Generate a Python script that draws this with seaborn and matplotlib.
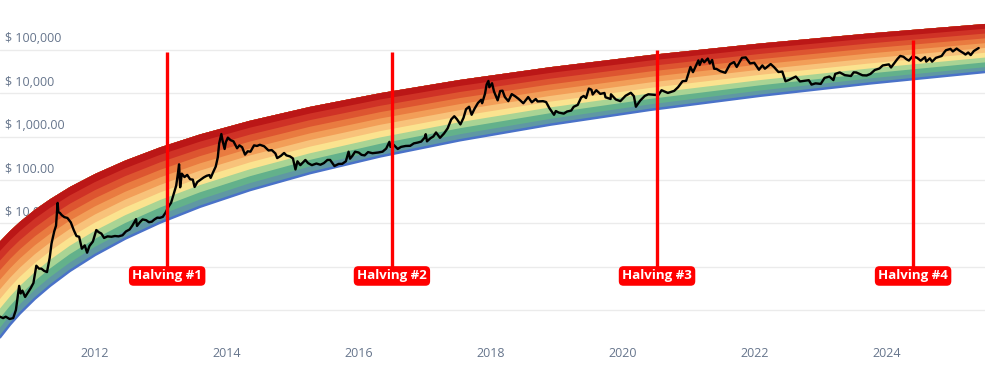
import pandas as pd
import seaborn as sns
import matplotlib.pyplot as plt
import matplotlib.dates as mdates
import matplotlib.transforms as mtransforms
import numpy as np

# rainbow envelope (bottom = blue line, top = dark red edge)
band_dates = ['2010-07-24', '2010-09-17', '2010-11-11', '2011-02-02', '2011-04-27',
              '2011-08-15', '2012-01-01', '2012-06-16', '2012-12-26', '2013-08-04',
              '2014-05-08', '2015-04-05', '2016-04-27', '2017-07-13', '2018-11-23',
              '2020-05-29', '2022-01-28', '2023-09-28', '2025-06-26']
band_top = [3.83, 6.64, 10.8, 20.6, 36.0, 69.0, 138, 281, 568, 1127,
            2333, 4875, 10090, 20420, 40090, 76560, 141300, 242100, 399000]
band_bottom = [0.0234, 0.0458, 0.0832, 0.182, 0.361, 0.798, 1.86, 4.43, 10.4, 24.1,
               58.6, 144, 350, 826, 1888, 4150, 8770, 16900, 31100]
band_colors = ['#5f98a3', '#63b18b', '#a9d494', '#fbe38f', '#f8c27a',
               '#f29e58', '#e97b40', '#dd5530', '#cf3226', '#bb1717']

# btc price line
btc_dates = [
    '2010-07-24', '2010-08-10', '2010-08-25', '2010-09-15', '2010-10-05', '2010-10-20',
    '2010-11-07', '2010-11-15', '2010-11-25', '2010-12-10', '2010-12-25', '2011-01-10',
    '2011-01-25', '2011-02-10', '2011-02-25', '2011-03-10', '2011-03-25', '2011-04-10',
    '2011-04-25', '2011-05-05', '2011-05-20', '2011-05-30', '2011-06-08', '2011-06-12',
    '2011-06-20', '2011-07-01', '2011-07-15', '2011-08-01', '2011-08-20', '2011-09-05',
    '2011-09-20', '2011-10-05', '2011-10-20', '2011-11-05', '2011-11-18', '2011-12-01',
    '2011-12-20', '2012-01-08', '2012-01-20', '2012-02-05', '2012-02-20', '2012-03-10',
    '2012-04-01', '2012-04-20', '2012-05-10', '2012-06-01', '2012-06-20', '2012-07-10',
    '2012-07-25', '2012-08-15', '2012-08-20', '2012-09-05', '2012-09-20', '2012-10-10',
    '2012-10-25', '2012-11-10', '2012-11-25', '2012-12-10', '2012-12-25', '2013-01-10',
    '2013-01-25', '2013-02-10', '2013-02-25', '2013-03-10', '2013-03-25', '2013-04-03',
    '2013-04-10', '2013-04-16', '2013-04-25', '2013-05-10', '2013-05-25', '2013-06-10',
    '2013-06-25', '2013-07-05', '2013-07-20', '2013-08-10', '2013-08-25', '2013-09-10',
    '2013-09-25', '2013-10-02', '2013-10-15', '2013-10-30', '2013-11-10', '2013-11-18',
    '2013-11-30', '2013-12-07', '2013-12-18', '2013-12-25', '2014-01-05', '2014-01-20',
    '2014-02-05', '2014-02-25', '2014-03-10', '2014-03-25', '2014-04-10', '2014-04-25',
    '2014-05-10', '2014-05-30', '2014-06-15', '2014-07-01', '2014-07-25', '2014-08-18',
    '2014-09-05', '2014-09-25', '2014-10-05', '2014-10-25', '2014-11-12', '2014-11-25',
    '2014-12-15', '2014-12-31', '2015-01-14', '2015-01-25', '2015-02-10', '2015-03-10',
    '2015-03-25', '2015-04-15', '2015-05-10', '2015-06-01', '2015-06-20', '2015-07-10',
    '2015-07-25', '2015-08-18', '2015-09-10', '2015-09-30', '2015-10-20', '2015-11-04',
    '2015-11-12', '2015-11-25', '2015-12-10', '2015-12-30', '2016-01-15', '2016-02-01',
    '2016-02-20', '2016-03-15', '2016-04-15', '2016-05-10', '2016-05-30', '2016-06-17',
    '2016-06-23', '2016-07-10', '2016-08-02', '2016-08-20', '2016-09-15', '2016-10-10',
    '2016-10-30', '2016-11-20', '2016-12-10', '2016-12-30', '2017-01-04', '2017-01-11',
    '2017-01-30', '2017-02-15', '2017-03-02', '2017-03-24', '2017-04-15', '2017-05-05',
    '2017-05-25', '2017-06-11', '2017-06-25', '2017-07-15', '2017-08-01', '2017-08-15',
    '2017-09-01', '2017-09-15', '2017-10-01', '2017-10-20', '2017-11-07', '2017-11-12',
    '2017-11-28', '2017-12-07', '2017-12-17', '2017-12-22', '2018-01-06', '2018-01-17',
    '2018-02-06', '2018-02-20', '2018-03-05', '2018-03-18', '2018-04-06', '2018-04-25',
    '2018-05-15', '2018-06-01', '2018-06-28', '2018-07-25', '2018-08-14', '2018-09-05',
    '2018-09-15', '2018-10-15', '2018-11-01', '2018-11-20', '2018-12-15', '2018-12-25',
    '2019-01-10', '2019-02-07', '2019-02-25', '2019-03-20', '2019-04-03', '2019-04-25',
    '2019-05-14', '2019-05-28', '2019-06-10', '2019-06-26', '2019-07-10', '2019-07-17',
    '2019-08-06', '2019-08-28', '2019-09-20', '2019-09-26', '2019-10-24', '2019-10-26',
    '2019-11-22', '2019-12-17', '2020-01-15', '2020-02-13', '2020-03-01', '2020-03-12',
    '2020-04-05', '2020-04-30', '2020-05-20', '2020-06-25', '2020-07-15', '2020-08-01',
    '2020-09-05', '2020-10-10', '2020-10-31', '2020-11-25', '2020-12-15', '2021-01-08',
    '2021-01-22', '2021-02-21', '2021-02-28', '2021-03-13', '2021-03-25', '2021-04-14',
    '2021-04-25', '2021-05-08', '2021-05-19', '2021-06-01', '2021-06-22', '2021-07-20',
    '2021-08-15', '2021-09-06', '2021-09-21', '2021-10-20', '2021-11-10', '2021-12-04',
    '2021-12-27', '2022-01-22', '2022-02-10', '2022-02-24', '2022-03-28', '2022-04-15',
    '2022-05-10', '2022-05-31', '2022-06-18', '2022-07-05', '2022-08-14', '2022-09-06',
    '2022-09-30', '2022-10-25', '2022-11-09', '2022-12-01', '2022-12-30', '2023-01-20',
    '2023-02-16', '2023-03-10', '2023-03-20', '2023-04-14', '2023-05-12', '2023-06-15',
    '2023-06-30', '2023-07-15', '2023-08-18', '2023-09-10', '2023-10-01', '2023-10-25',
    '2023-11-20', '2023-12-08', '2024-01-11', '2024-01-23', '2024-02-28', '2024-03-14',
    '2024-04-01', '2024-04-17', '2024-05-01', '2024-05-21', '2024-06-15', '2024-07-05',
    '2024-07-29', '2024-08-05', '2024-08-25', '2024-09-06', '2024-09-27', '2024-10-29',
    '2024-11-12', '2024-11-22', '2024-12-17', '2024-12-30', '2025-01-20', '2025-02-03',
    '2025-02-28', '2025-03-10', '2025-03-25', '2025-04-08', '2025-04-25', '2025-05-22']
btc_prices = [
    0.07, 0.065, 0.07, 0.062, 0.065, 0.10,
    0.36, 0.24, 0.28, 0.20, 0.25, 0.32,
    0.42, 1.05, 0.90, 0.90, 0.80, 0.75,
    1.6, 3.4, 6.5, 8.8, 29.6, 18,
    17.5, 15.4, 13.9, 13.3, 10.5, 7.0,
    5.1, 4.9, 2.6, 3.1, 2.1, 3.0,
    3.8, 7.0, 6.3, 5.8, 4.6, 5.0,
    4.9, 5.1, 5.0, 5.3, 6.5, 7.2,
    8.8, 12.5, 8.7, 10.6, 12.3, 11.8,
    10.6, 10.9, 12.3, 13.5, 13.4, 14.1,
    17.6, 24, 30, 46, 74, 135,
    230, 68, 140, 117, 131, 104,
    102, 69, 90, 104, 115, 125,
    130, 112, 150, 205, 330, 700,
    1150, 800, 520, 750, 950, 830,
    780, 540, 630, 570, 385, 460,
    450, 630, 610, 650, 600, 480,
    490, 410, 320, 360, 420, 370,
    350, 315, 175, 270, 220, 290,
    245, 220, 240, 225, 245, 290,
    290, 210, 235, 236, 270, 450,
    310, 360, 450, 430, 380, 370,
    440, 415, 430, 450, 530, 760,
    580, 650, 520, 580, 610, 615,
    700, 730, 770, 960, 1140, 780,
    920, 1010, 1250, 940, 1180, 1550,
    2500, 2960, 2550, 1920, 2720, 4300,
    4900, 3200, 4400, 6000, 7100, 5900,
    9800, 16000, 19300, 13800, 17100, 11000,
    6900, 11300, 11500, 8200, 6600, 9600,
    8500, 7500, 5900, 8200, 6200, 7400,
    6500, 6600, 6300, 4500, 3200, 3900,
    3600, 3400, 3800, 4000, 4900, 5400,
    8000, 8700, 7800, 12900, 12100, 9400,
    11800, 9700, 10200, 8100, 7400, 9500,
    7200, 6600, 8800, 10300, 8600, 4900,
    6800, 8700, 9500, 9200, 9200, 11800,
    10200, 11400, 13800, 19000, 19400, 40600,
    30800, 57500, 45000, 61000, 52000, 63500,
    49000, 58800, 37000, 36600, 32500, 29800,
    47000, 52600, 40600, 66000, 67500, 49000,
    50700, 35000, 44000, 37000, 47400, 40500,
    31000, 31800, 19000, 20200, 24400, 18800,
    19400, 20100, 15900, 17000, 16500, 22700,
    24400, 20200, 28000, 30400, 26300, 25100,
    30500, 30300, 26100, 25800, 28000, 34500,
    37500, 44000, 46600, 39500, 62500, 73000,
    69700, 61300, 57000, 71400, 66200, 56700,
    68300, 54000, 64200, 53900, 65800, 72700,
    88000, 98900, 106000, 92600, 108000, 97700,
    84300, 78500, 87500, 76300, 94500, 111000]

# halving markers
halving_dates = ['2013-02-03', '2016-07-01', '2020-07-07', '2024-05-24']
halving_labels = ['Halving #1', 'Halving #2', 'Halving #3', 'Halving #4']
halving_tops = [90000, 90000, 100000, 170000]
halving_bottom = 0.98
halving_label_y = 0.61

ytick_values = [100000, 10000, 1000, 100, 10, 1]
ytick_labels = ['$ 100,000', '$ 10,000', '$ 1,000.00', '$ 100.00', '$ 10.00', '$ 1.00']
grid_values = [100000, 10000, 1000, 100, 10, 1, 0.1]

sns.set_style('white')
plt.rcParams['font.family'] = ['Open Sans', 'DejaVu Sans']
text_color = '#66758c'

fig = plt.figure(figsize=(9.85, 3.69), dpi=100)
ax = fig.add_axes([0, 29 / 369, 1, 340 / 369])
ax.set_yscale('log')

bd = pd.to_datetime(band_dates)
lo = np.log10(band_bottom)
hi = np.log10(band_top)
n = len(band_colors)
# each band drawn from its lower edge to the top so no seams show
for i in range(n):
    ax.fill_between(bd, 10 ** (lo + (hi - lo) * i / n), band_top,
                    color=band_colors[i], lw=0, zorder=2)
ax.plot(bd, band_bottom, color='#4a72c8', lw=1.8, zorder=3)

df = pd.DataFrame({'date': pd.to_datetime(btc_dates), 'price': btc_prices})
sns.lineplot(data=df, x='date', y='price', color='black', lw=1.7, ax=ax, zorder=4)

hd = pd.to_datetime(halving_dates)
ax.vlines(hd, halving_bottom, halving_tops, colors='#ff0000', lw=2.4, zorder=5)
for d, lab in zip(hd, halving_labels):
    ax.text(d, halving_label_y, lab, ha='center', va='center', color='white',
            fontsize=9.5, fontweight='bold', family='Open Sans', zorder=6,
            bbox=dict(boxstyle='round,pad=0.25,rounding_size=0.35', fc='#ff0000', ec='none'))

ax.set_xlim(pd.Timestamp('2010-07-24'), pd.Timestamp('2025-06-26'))
ax.set_ylim(0.0203, 1.425e6)

ax.set_yticks(grid_values)
ax.yaxis.set_minor_locator(plt.NullLocator())
ax.yaxis.grid(True, color='#ebebeb', lw=1, zorder=0)
ax.set_axisbelow(True)
ax.tick_params(axis='y', length=0, labelleft=False)

trans = mtransforms.offset_copy(ax.get_yaxis_transform(), fig=fig, x=0, y=11, units='dots')
for v, s in zip(ytick_values, ytick_labels):
    ax.text(5 / 985, v, s, transform=trans, ha='left', va='center',
            fontsize=9, color=text_color, zorder=1)

ax.xaxis.set_major_locator(mdates.YearLocator(2))
ax.xaxis.set_major_formatter(mdates.DateFormatter('%Y'))
ax.tick_params(axis='x', length=0, pad=5, labelsize=9, labelcolor=text_color)
ax.set_xlabel('')
ax.set_ylabel('')
for s in ax.spines.values():
    s.set_visible(False)

fig.savefig('out.png', dpi=100)
